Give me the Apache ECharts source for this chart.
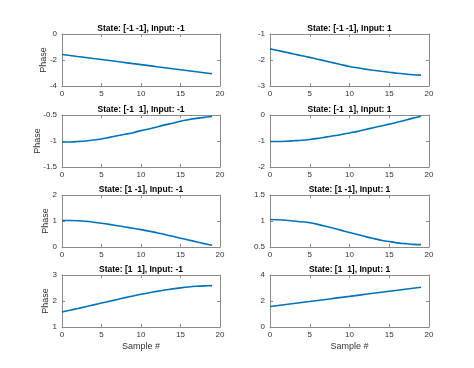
<!DOCTYPE html>
<html>
<head>
<meta charset="utf-8">
<script src="https://cdn.jsdelivr.net/npm/echarts@6/dist/echarts.min.js"></script>
<style>
html,body{margin:0;padding:0;background:#fff;}
#c{width:474px;height:368px;}
</style>
</head>
<body>
<div id="c"></div>
<script>
// ---- data ----
const samples = [0,1,2,3,4,5,6,7,8,9,10,11,12,13,14,15,16,17,18,19];
const titles = [
  'State: [-1 -1], Input: -1', 'State: [-1 -1], Input: 1',
  'State: [-1  1], Input: -1', 'State: [-1  1], Input: 1',
  'State: [1 -1], Input: -1',  'State: [1 -1], Input: 1',
  'State: [1  1], Input: -1',  'State: [1  1], Input: 1'
];
const phaseMM_neg = [-1.571,-1.649,-1.728,-1.806,-1.885,-1.963,-2.042,-2.121,-2.199,-2.278,-2.356,-2.435,-2.513,-2.592,-2.670,-2.749,-2.827,-2.906,-2.985,-3.063];
const phaseMM_pos = [-1.571,-1.635,-1.70,-1.77,-1.835,-1.90,-1.97,-2.04,-2.11,-2.18,-2.25,-2.30,-2.35,-2.395,-2.435,-2.47,-2.51,-2.54,-2.565,-2.58];
const phaseMP_neg = [-1.02,-1.02,-1.01,-1.00,-0.98,-0.96,-0.93,-0.90,-0.87,-0.84,-0.80,-0.77,-0.73,-0.69,-0.66,-0.62,-0.59,-0.565,-0.545,-0.53];
const phaseMP_pos = [-1.02,-1.02,-1.01,-0.99,-0.97,-0.94,-0.90,-0.85,-0.80,-0.75,-0.69,-0.63,-0.56,-0.49,-0.42,-0.35,-0.28,-0.20,-0.12,-0.05];
const phasePM_neg = [1.02,1.02,1.01,0.99,0.955,0.915,0.87,0.82,0.77,0.72,0.667,0.61,0.55,0.48,0.41,0.34,0.27,0.20,0.13,0.065];
const phasePM_pos = [1.03,1.025,1.015,1.0,0.985,0.965,0.935,0.90,0.86,0.82,0.78,0.74,0.70,0.665,0.63,0.605,0.58,0.565,0.55,0.545];
const phasePP_neg = [1.58,1.645,1.71,1.78,1.85,1.92,1.99,2.06,2.13,2.195,2.26,2.32,2.37,2.42,2.465,2.505,2.54,2.565,2.58,2.59];
const phasePP_pos = [1.571,1.649,1.728,1.806,1.885,1.963,2.042,2.121,2.199,2.278,2.356,2.435,2.513,2.592,2.670,2.749,2.827,2.906,2.985,3.063];
const seriesData = [phaseMM_neg, phaseMM_pos, phaseMP_neg, phaseMP_pos, phasePM_neg, phasePM_pos, phasePP_neg, phasePP_pos];
// y-axis ranges [min, max, interval]
const yMin = [-4, -3, -1.5, -2, 0, 0.5, 1, 0];
const yMax = [0, -1, -0.5, 0, 2, 1.5, 3, 4];
const yInterval = [2, 1, 0.5, 1, 1, 0.5, 1, 2];
const xMin = 0, xMax = 20, xInterval = 5;

// ---- layout ----
const colLeft = [62, 270];
const colWidth = [158, 159];
const rowTop = [34, 115, 195, 275];
const plotH = 52;
const yNameGap = [14, 20, 12, 12];
const axisColor = '#8a8a8a';
const textColor = '#333';
const lineColor = '#0072BD';
const font = 'Liberation Sans, Arial, Helvetica, sans-serif';

const grid = [], xAxis = [], yAxis = [], series = [], title = [];
for (let i = 0; i < 8; i++) {
  const col = i % 2, row = Math.floor(i / 2);
  grid.push({left: colLeft[col], top: rowTop[row], width: colWidth[col], height: plotH, containLabel: false});
  const isBottom = row === 3;
  const tick = {show: true, inside: true, length: 3, lineStyle: {color: axisColor}};
  const line = {show: true, onZero: false, lineStyle: {color: axisColor, width: 1}};
  xAxis.push({
    type: 'value', gridIndex: i, position: 'bottom', min: xMin, max: xMax, interval: xInterval,
    axisLine: line, axisTick: tick, splitLine: {show: false},
    axisLabel: {show: true, color: textColor, fontSize: 8, fontFamily: font, margin: 4},
    name: isBottom ? 'Sample #' : '', nameLocation: 'middle', nameGap: 15,
    nameTextStyle: {color: textColor, fontSize: 9, fontFamily: font}
  });
  xAxis.push({
    type: 'value', gridIndex: i, position: 'top', min: xMin, max: xMax, interval: xInterval,
    axisLine: line, axisTick: tick, splitLine: {show: false}, axisLabel: {show: false}
  });
  yAxis.push({
    type: 'value', gridIndex: i, position: 'left', min: yMin[i], max: yMax[i], interval: yInterval[i],
    axisLine: line, axisTick: tick, splitLine: {show: false},
    axisLabel: {show: true, color: textColor, fontSize: 8, fontFamily: font, margin: 5},
    name: col === 0 ? 'Phase' : '', nameLocation: 'middle', nameGap: yNameGap[row], nameRotate: 90,
    nameMoveOverlap: false,
    nameTextStyle: {color: textColor, fontSize: 9, fontFamily: font}
  });
  yAxis.push({
    type: 'value', gridIndex: i, position: 'right', min: yMin[i], max: yMax[i], interval: yInterval[i],
    axisLine: line, axisTick: tick, splitLine: {show: false}, axisLabel: {show: false}
  });
  series.push({
    type: 'line', xAxisIndex: 2 * i, yAxisIndex: 2 * i,
    data: samples.map((s, k) => [s, seriesData[i][k]]),
    showSymbol: false, smooth: 0.2, silent: true,
    lineStyle: {color: lineColor, width: 1.6}
  });
  title.push({
    text: titles[i], left: colLeft[col] + colWidth[col] / 2, top: rowTop[row] - 10,
    textAlign: 'center', padding: 0,
    textStyle: {fontSize: 8.5, fontWeight: 'bold', color: '#000', fontFamily: font}
  });
}

const chart = echarts.init(document.getElementById('c'), null, {renderer: 'canvas'});
chart.setOption({animation: false, backgroundColor: '#fff', title, grid, xAxis, yAxis, series});
</script>
</body>
</html>
